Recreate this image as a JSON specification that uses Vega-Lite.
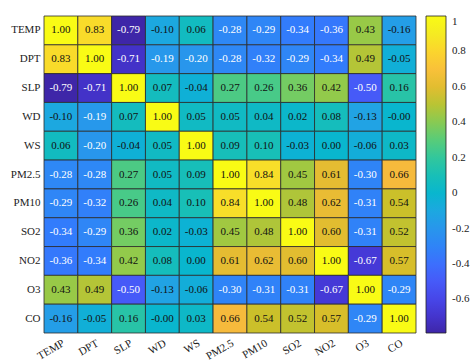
{
  "$schema": "https://vega.github.io/schema/vega-lite/v6.json",
  "width": 372,
  "height": 317,
  "autosize": {"type": "none"},
  "padding": {"left": 44, "top": 16, "right": 58, "bottom": 29},
  "background": "white",
  "config": {
    "view": {"stroke": null},
    "font": "Liberation Serif",
    "locale": {"number": {"decimal": ".", "thousands": ",", "grouping": [3], "currency": ["$", ""], "minus": "-"}}
  },
  "data": {"values": [
    {"r":"TEMP","c":"TEMP","v":1.00,"t":"1.00"},{"r":"TEMP","c":"DPT","v":0.83,"t":"0.83"},{"r":"TEMP","c":"SLP","v":-0.79,"t":"-0.79"},{"r":"TEMP","c":"WD","v":-0.10,"t":"-0.10"},{"r":"TEMP","c":"WS","v":0.06,"t":"0.06"},{"r":"TEMP","c":"PM2.5","v":-0.28,"t":"-0.28"},{"r":"TEMP","c":"PM10","v":-0.29,"t":"-0.29"},{"r":"TEMP","c":"SO2","v":-0.34,"t":"-0.34"},{"r":"TEMP","c":"NO2","v":-0.36,"t":"-0.36"},{"r":"TEMP","c":"O3","v":0.43,"t":"0.43"},{"r":"TEMP","c":"CO","v":-0.16,"t":"-0.16"},
    {"r":"DPT","c":"TEMP","v":0.83,"t":"0.83"},{"r":"DPT","c":"DPT","v":1.00,"t":"1.00"},{"r":"DPT","c":"SLP","v":-0.71,"t":"-0.71"},{"r":"DPT","c":"WD","v":-0.19,"t":"-0.19"},{"r":"DPT","c":"WS","v":-0.20,"t":"-0.20"},{"r":"DPT","c":"PM2.5","v":-0.28,"t":"-0.28"},{"r":"DPT","c":"PM10","v":-0.32,"t":"-0.32"},{"r":"DPT","c":"SO2","v":-0.29,"t":"-0.29"},{"r":"DPT","c":"NO2","v":-0.34,"t":"-0.34"},{"r":"DPT","c":"O3","v":0.49,"t":"0.49"},{"r":"DPT","c":"CO","v":-0.05,"t":"-0.05"},
    {"r":"SLP","c":"TEMP","v":-0.79,"t":"-0.79"},{"r":"SLP","c":"DPT","v":-0.71,"t":"-0.71"},{"r":"SLP","c":"SLP","v":1.00,"t":"1.00"},{"r":"SLP","c":"WD","v":0.07,"t":"0.07"},{"r":"SLP","c":"WS","v":-0.04,"t":"-0.04"},{"r":"SLP","c":"PM2.5","v":0.27,"t":"0.27"},{"r":"SLP","c":"PM10","v":0.26,"t":"0.26"},{"r":"SLP","c":"SO2","v":0.36,"t":"0.36"},{"r":"SLP","c":"NO2","v":0.42,"t":"0.42"},{"r":"SLP","c":"O3","v":-0.50,"t":"-0.50"},{"r":"SLP","c":"CO","v":0.16,"t":"0.16"},
    {"r":"WD","c":"TEMP","v":-0.10,"t":"-0.10"},{"r":"WD","c":"DPT","v":-0.19,"t":"-0.19"},{"r":"WD","c":"SLP","v":0.07,"t":"0.07"},{"r":"WD","c":"WD","v":1.00,"t":"1.00"},{"r":"WD","c":"WS","v":0.05,"t":"0.05"},{"r":"WD","c":"PM2.5","v":0.05,"t":"0.05"},{"r":"WD","c":"PM10","v":0.04,"t":"0.04"},{"r":"WD","c":"SO2","v":0.02,"t":"0.02"},{"r":"WD","c":"NO2","v":0.08,"t":"0.08"},{"r":"WD","c":"O3","v":-0.13,"t":"-0.13"},{"r":"WD","c":"CO","v":-0.00,"t":"-0.00"},
    {"r":"WS","c":"TEMP","v":0.06,"t":"0.06"},{"r":"WS","c":"DPT","v":-0.20,"t":"-0.20"},{"r":"WS","c":"SLP","v":-0.04,"t":"-0.04"},{"r":"WS","c":"WD","v":0.05,"t":"0.05"},{"r":"WS","c":"WS","v":1.00,"t":"1.00"},{"r":"WS","c":"PM2.5","v":0.09,"t":"0.09"},{"r":"WS","c":"PM10","v":0.10,"t":"0.10"},{"r":"WS","c":"SO2","v":-0.03,"t":"-0.03"},{"r":"WS","c":"NO2","v":0.00,"t":"0.00"},{"r":"WS","c":"O3","v":-0.06,"t":"-0.06"},{"r":"WS","c":"CO","v":0.03,"t":"0.03"},
    {"r":"PM2.5","c":"TEMP","v":-0.28,"t":"-0.28"},{"r":"PM2.5","c":"DPT","v":-0.28,"t":"-0.28"},{"r":"PM2.5","c":"SLP","v":0.27,"t":"0.27"},{"r":"PM2.5","c":"WD","v":0.05,"t":"0.05"},{"r":"PM2.5","c":"WS","v":0.09,"t":"0.09"},{"r":"PM2.5","c":"PM2.5","v":1.00,"t":"1.00"},{"r":"PM2.5","c":"PM10","v":0.84,"t":"0.84"},{"r":"PM2.5","c":"SO2","v":0.45,"t":"0.45"},{"r":"PM2.5","c":"NO2","v":0.61,"t":"0.61"},{"r":"PM2.5","c":"O3","v":-0.30,"t":"-0.30"},{"r":"PM2.5","c":"CO","v":0.66,"t":"0.66"},
    {"r":"PM10","c":"TEMP","v":-0.29,"t":"-0.29"},{"r":"PM10","c":"DPT","v":-0.32,"t":"-0.32"},{"r":"PM10","c":"SLP","v":0.26,"t":"0.26"},{"r":"PM10","c":"WD","v":0.04,"t":"0.04"},{"r":"PM10","c":"WS","v":0.10,"t":"0.10"},{"r":"PM10","c":"PM2.5","v":0.84,"t":"0.84"},{"r":"PM10","c":"PM10","v":1.00,"t":"1.00"},{"r":"PM10","c":"SO2","v":0.48,"t":"0.48"},{"r":"PM10","c":"NO2","v":0.62,"t":"0.62"},{"r":"PM10","c":"O3","v":-0.31,"t":"-0.31"},{"r":"PM10","c":"CO","v":0.54,"t":"0.54"},
    {"r":"SO2","c":"TEMP","v":-0.34,"t":"-0.34"},{"r":"SO2","c":"DPT","v":-0.29,"t":"-0.29"},{"r":"SO2","c":"SLP","v":0.36,"t":"0.36"},{"r":"SO2","c":"WD","v":0.02,"t":"0.02"},{"r":"SO2","c":"WS","v":-0.03,"t":"-0.03"},{"r":"SO2","c":"PM2.5","v":0.45,"t":"0.45"},{"r":"SO2","c":"PM10","v":0.48,"t":"0.48"},{"r":"SO2","c":"SO2","v":1.00,"t":"1.00"},{"r":"SO2","c":"NO2","v":0.60,"t":"0.60"},{"r":"SO2","c":"O3","v":-0.31,"t":"-0.31"},{"r":"SO2","c":"CO","v":0.52,"t":"0.52"},
    {"r":"NO2","c":"TEMP","v":-0.36,"t":"-0.36"},{"r":"NO2","c":"DPT","v":-0.34,"t":"-0.34"},{"r":"NO2","c":"SLP","v":0.42,"t":"0.42"},{"r":"NO2","c":"WD","v":0.08,"t":"0.08"},{"r":"NO2","c":"WS","v":0.00,"t":"0.00"},{"r":"NO2","c":"PM2.5","v":0.61,"t":"0.61"},{"r":"NO2","c":"PM10","v":0.62,"t":"0.62"},{"r":"NO2","c":"SO2","v":0.60,"t":"0.60"},{"r":"NO2","c":"NO2","v":1.00,"t":"1.00"},{"r":"NO2","c":"O3","v":-0.67,"t":"-0.67"},{"r":"NO2","c":"CO","v":0.57,"t":"0.57"},
    {"r":"O3","c":"TEMP","v":0.43,"t":"0.43"},{"r":"O3","c":"DPT","v":0.49,"t":"0.49"},{"r":"O3","c":"SLP","v":-0.50,"t":"-0.50"},{"r":"O3","c":"WD","v":-0.13,"t":"-0.13"},{"r":"O3","c":"WS","v":-0.06,"t":"-0.06"},{"r":"O3","c":"PM2.5","v":-0.30,"t":"-0.30"},{"r":"O3","c":"PM10","v":-0.31,"t":"-0.31"},{"r":"O3","c":"SO2","v":-0.31,"t":"-0.31"},{"r":"O3","c":"NO2","v":-0.67,"t":"-0.67"},{"r":"O3","c":"O3","v":1.00,"t":"1.00"},{"r":"O3","c":"CO","v":-0.29,"t":"-0.29"},
    {"r":"CO","c":"TEMP","v":-0.16,"t":"-0.16"},{"r":"CO","c":"DPT","v":-0.05,"t":"-0.05"},{"r":"CO","c":"SLP","v":0.16,"t":"0.16"},{"r":"CO","c":"WD","v":-0.00,"t":"-0.00"},{"r":"CO","c":"WS","v":0.03,"t":"0.03"},{"r":"CO","c":"PM2.5","v":0.66,"t":"0.66"},{"r":"CO","c":"PM10","v":0.54,"t":"0.54"},{"r":"CO","c":"SO2","v":0.52,"t":"0.52"},{"r":"CO","c":"NO2","v":0.57,"t":"0.57"},{"r":"CO","c":"O3","v":-0.29,"t":"-0.29"},{"r":"CO","c":"CO","v":1.00,"t":"1.00"}
  ]},
  "encoding": {
    "x": {"field": "c", "type": "nominal",
      "sort": ["TEMP","DPT","SLP","WD","WS","PM2.5","PM10","SO2","NO2","O3","CO"],
      "axis": {"title": null, "labelAngle": -30, "labelAlign": "right", "labelBaseline": "top", "ticks": false, "domain": false, "labelFont": "Liberation Serif", "labelFontSize": 11, "labelColor": "#222", "labelPadding": 4}},
    "y": {"field": "r", "type": "nominal",
      "sort": ["TEMP","DPT","SLP","WD","WS","PM2.5","PM10","SO2","NO2","O3","CO"],
      "axis": {"title": null, "ticks": false, "domain": false, "labelFont": "Liberation Serif", "labelFontSize": 11, "labelColor": "#222", "labelPadding": 4}}
  },
  "layer": [
    {"mark": {"type": "rect", "stroke": "#2b2b2b", "strokeWidth": 0.8},
     "encoding": {"color": {"field": "v", "type": "quantitative",
       "scale": {"domain": [-0.79, 1], "range": ["#3e26a8","#4537d5","#484df0","#4563fd","#327cfc","#2b91ef","#20a5e3","#08b5d0","#19bfb6","#37c897","#64cd6f","#9dc943","#d1bf27","#f8ba3d","#fccf30","#f5e924","#f9fb15"], "interpolate": "rgb"},
       "legend": {"title": null, "orient": "none", "legendX": 382, "legendY": 0, "direction": "vertical", "gradientLength": 317, "gradientThickness": 20, "gradientStrokeColor": "#222", "gradientStrokeWidth": 0.8, "values": [1, 0.8, 0.6, 0.4, 0.2, 0, -0.2, -0.4, -0.6], "format": "~g", "labelFont": "Liberation Serif", "labelFontSize": 11, "labelColor": "#222", "labelOffset": 6, "labelOverlap": false}}}},
    {"mark": {"type": "text", "font": "Liberation Serif", "fontSize": 11},
     "encoding": {"text": {"field": "t"},
       "color": {"condition": {"test": "datum.v < -0.17", "value": "white"}, "value": "#111"}}}
  ]
}
